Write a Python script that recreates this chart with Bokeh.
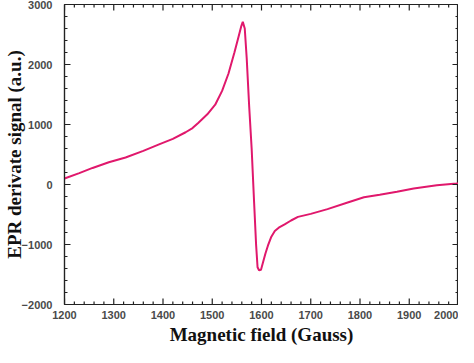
import math
from bokeh.plotting import figure
from bokeh.models import LinearAxis, FixedTicker
from bokeh.embed import file_html
from bokeh.resources import INLINE

field = [1200, 1230, 1257, 1290, 1324, 1360, 1392, 1420, 1446, 1460, 1472, 1490, 1506, 1520,
         1533, 1545, 1553, 1559, 1562, 1566, 1570, 1575, 1580, 1585, 1589, 1592, 1595, 1599,
         1603, 1608, 1613, 1620, 1627, 1635, 1647, 1660, 1674, 1700, 1734, 1775, 1808, 1840,
         1875, 1909, 1956, 1996, 2000]
signal = [100, 190, 276, 370, 451, 560, 668, 760, 871, 940, 1030, 1170, 1330, 1560,
          1850, 2200, 2450, 2640, 2710, 2600, 2100, 1300, 600, -300, -1000, -1380, -1430, -1420,
          -1300, -1150, -1020, -870, -775, -720, -665, -600, -540, -490, -410, -300, -213, -170,
          -121, -67, -12, 15, 18]

x_ticks = list(range(1200, 2001, 100))
y_ticks = list(range(-2000, 3001, 1000))
x_minor = [v for v in range(1200, 2001, 20) if v % 100 != 0]
y_minor = [v for v in range(-2000, 3001, 200) if v % 1000 != 0]

XMIN, XMAX, YMIN, YMAX = 1200, 2000, -2000, 3000

p = figure(width=458, height=347, x_range=(XMIN, XMAX), y_range=(YMIN, YMAX),
           output_backend="svg", toolbar_location=None,
           x_axis_location=None, y_axis_location=None,
           min_border_top=4, min_border_right=0, min_border_left=0, min_border_bottom=0)
p.grid.visible = False
p.outline_line_color = "#222222"
p.outline_line_width = 1.2
p.background_fill_color = "white"
p.border_fill_color = "white"

p.line(field, signal, line_color="#e0186c", line_width=2)

TC = "#222222"
# inward ticks on all four sides
for vals, ln in ((x_ticks, 6), (x_minor, 3)):
    p.ray(x=vals, y=[YMIN] * len(vals), length=ln, angle=math.pi / 2,
          length_units="screen", line_color=TC, line_width=1.2)
    p.ray(x=vals, y=[YMAX] * len(vals), length=ln, angle=-math.pi / 2,
          length_units="screen", line_color=TC, line_width=1.2)
for vals, ln in ((y_ticks, 6), (y_minor, 3)):
    p.ray(x=[XMIN] * len(vals), y=vals, length=ln, angle=0,
          length_units="screen", line_color=TC, line_width=1.2)
    p.ray(x=[XMAX] * len(vals), y=vals, length=ln, angle=math.pi,
          length_units="screen", line_color=TC, line_width=1.2)

def style(ax):
    ax.axis_line_color = TC
    ax.axis_line_width = 1.2
    ax.major_tick_in = 0
    ax.major_tick_out = 0
    ax.minor_tick_in = 0
    ax.minor_tick_out = 0
    ax.major_label_text_font = "Liberation Sans"
    ax.major_label_text_font_size = "11px"
    ax.major_label_text_font_style = "bold"
    ax.major_label_text_color = "#4a4a4a"
    ax.axis_label_text_font = "Liberation Serif"
    ax.axis_label_text_font_size = "19px"
    ax.axis_label_text_font_style = "bold"
    ax.axis_label_text_color = "#111111"

xb = LinearAxis(ticker=FixedTicker(ticks=x_ticks), axis_label="Magnetic field (Gauss)")
style(xb)
xb.major_label_standoff = 6
xb.axis_label_standoff = 2
p.add_layout(xb, "below")

yl = LinearAxis(ticker=FixedTicker(ticks=y_ticks), axis_label="EPR derivate signal (a.u.)")
style(yl)
yl.major_label_standoff = 12
yl.axis_label_standoff = -6
p.add_layout(yl, "left")

open("out.html", "w").write(file_html(p, INLINE))
